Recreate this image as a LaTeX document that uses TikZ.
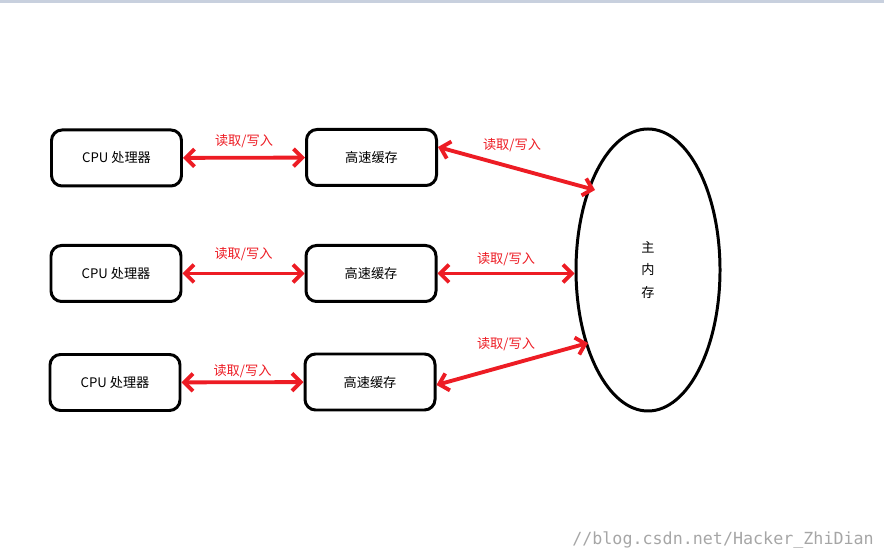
\documentclass[tikz,border=0pt]{standalone}
\usepackage{fontspec}
\setmainfont{Noto Sans CJK SC}
\setmonofont{DejaVu Sans Mono}
\usetikzlibrary{shapes.geometric,arrows.meta}
\definecolor{rwred}{RGB}{237,28,36}
\definecolor{topbar}{RGB}{200,208,222}

\tikzset{
  unit/.style={draw,line width=1.7pt,rounded corners=6pt,minimum width=2.6cm,
    minimum height=1.12cm,inner sep=0pt,font=\fontsize{7.5}{9}\selectfont},
  rw/.style={draw=rwred,line width=2.2pt,{Straight Barb[length=5pt,width=10pt]}-{Straight Barb[length=5pt,width=10pt]}},
  rwtext/.style={text=rwred,font=\fontsize{7.5}{9}\selectfont}
}

\begin{document}
\begin{tikzpicture}
      \useasboundingbox (0,0) rectangle (17.68,11.18);
      \fill[topbar] (0,11.12) rectangle (17.68,11.18);

      \node[draw,ellipse,line width=1.7pt,minimum width=2.88cm,minimum height=5.64cm,
        inner sep=0pt,align=center,font=\fontsize{7.5}{13}\selectfont] (mem) at (12.96,5.78) {主\\内\\存};

      % row 1
      \node[unit] (cpuA) at (2.33,8.02) {CPU 处理器};
      \node[unit] (cacheA) at (7.43,8.03) {高速缓存};
      \draw[rw] (cpuA) -- (cacheA) node[midway,above=1pt,rwtext] {读取/写入};
      \coordinate (memA) at (11.9,7.38);
      \draw[rw] (cacheA.east |- 0,8.24) -- (memA);
      \node[rwtext] (lblA) at (10.24,8.28) {读取/写入};

      % row 2
      \node[unit] (cpuB) at (2.32,5.71) {CPU 处理器};
      \node[unit] (cacheB) at (7.42,5.71) {高速缓存};
      \draw[rw] (cpuB) -- (cacheB) node[midway,above=3pt,rwtext] {读取/写入};
      \draw[rw] (cacheB) -- (mem.west |- cacheB) node[midway,above=0pt,rwtext] {读取/写入};

      % row 3
      \node[unit] (cpuC) at (2.3,3.53) {CPU 处理器};
      \node[unit] (cacheC) at (7.4,3.54) {高速缓存};
      \draw[rw] (cpuC) -- (cacheC) node[midway,above=-2pt,rwtext] {读取/写入};
      \coordinate (memC) at (11.76,4.32);
      \draw[rw] (cacheC.east |- 0,3.48) -- (memC);
      \node[rwtext] (lblC) at (10.12,4.3) {读取/写入};

      \node[anchor=east,text=gray!70,font=\ttfamily\fontsize{9.5}{11}\selectfont] (mark) at (17.6,0.38) {//blog.csdn.net/Hacker\_ZhiDian};
\end{tikzpicture}
\end{document}
